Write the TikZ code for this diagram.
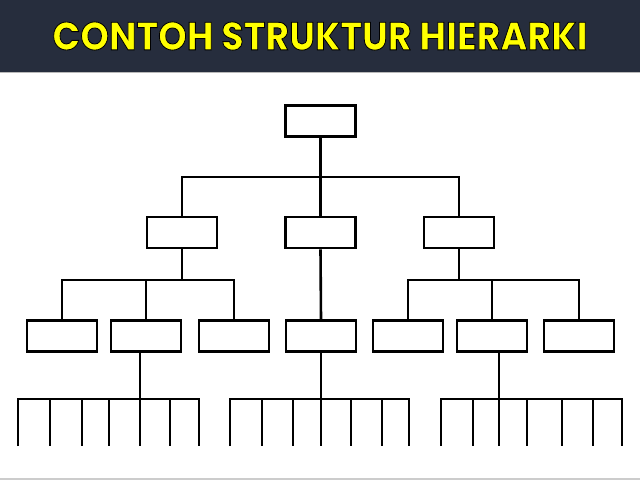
\documentclass[tikz,border=0pt]{standalone}
\usepackage{fontspec}
\usepackage{graphicx}
\newfontfamily\titlefont{Poppins}
\definecolor{headerbg}{RGB}{38,45,61}
\definecolor{titleyellow}{RGB}{255,255,0}
\tikzset{
  box/.style={draw=black, line width=2.6pt, minimum width=70pt, minimum height=31pt, inner sep=0pt, fill=white},
  conn/.style={draw=black, line width=2.6pt, line join=miter},
}
\newcommand{\titletext}{\special{pdf:literal direct 2 Tr 0.22 w 0 0 0 RG}\resizebox{535pt}{28pt}{\titlefont\bfseries CONTOH STRUKTUR HIERARKI}\special{pdf:literal direct 0 Tr}}
\begin{document}
\begin{tikzpicture}[x=1pt,y=-1pt]
\useasboundingbox (0,0) rectangle (640,480);
% header
\fill[headerbg] (0,0) rectangle (640,72);
\draw[gray!55, line width=1.5pt] (0,72.5) -- (640,72.5);
\draw[gray!40, line width=1.5pt] (0,479) -- (640,479);
% title
\node[text=titleyellow, inner sep=0pt] (title) at (320,36) {\titletext};

% level 1
\node[box] (top) at (320.5,121) {};
% level 2
\node[box] (l2a) at (182,232.5) {};
\node[box] (l2b) at (320.5,232.5) {};
\node[box] (l2c) at (459,232.5) {};
% level 3
\node[box] (l3a) at (62,336) {};
\node[box] (l3b) at (146,336) {};
\node[box] (l3c) at (234,336) {};
\node[box] (l3d) at (321,336) {};
\node[box] (l3e) at (408,336) {};
\node[box] (l3f) at (492,336) {};
\node[box] (l3g) at (579,336) {};

% top -> level 2
\coordinate (bus1) at (320.5,177);
\draw[conn] (top.south) -- (bus1);
\draw[conn] (l2a.north) |- (bus1) -| (l2c.north);
\draw[conn] (bus1) -- (l2b.north);

% level 2 -> level 3 (left)
\coordinate (bus2a) at (182,280);
\draw[conn] (l2a.south) -- (bus2a);
\draw[conn] (l3a.north) |- (bus2a) -| (l3c.north);
\draw[conn] (l3b.north) -- (l3b.north |- bus2a);
% middle
\draw[conn] (l2b.south) -- (l3d.north);
% right
\coordinate (bus2c) at (459,280);
\draw[conn] (l2c.south) -- (bus2c);
\draw[conn] (l3e.north) |- (bus2c) -| (l3g.north);
\draw[conn] (l3f.north) -- (l3f.north |- bus2c);

% bottom groups
\coordinate (s1) at (140,399);
\coordinate (s2) at (321,399);
\coordinate (s3) at (499,399);
\draw[conn] (l3b.south -| s1) -- (s1);
\draw[conn] (l3d.south -| s2) -- (s2);
\draw[conn] (l3f.south -| s3) -- (s3);

\foreach \g/\xs in {1/{18,50,82,109,140,170,199}, 2/{230,262,293,321,351,382,409}, 3/{441,473,499,527,562,593,622}}{
  \foreach \x [count=\i] in \xs {
    \coordinate (g\g t\i) at (\x,399);
    \coordinate (g\g b\i) at (\x,446);
  }
  \draw[conn] (g\g b1) -- (g\g t1) -- (g\g t7) -- (g\g b7);
  \foreach \i in {2,...,6}{
    \draw[conn] (g\g t\i) -- (g\g b\i);
  }
}
\end{tikzpicture}
\end{document}
